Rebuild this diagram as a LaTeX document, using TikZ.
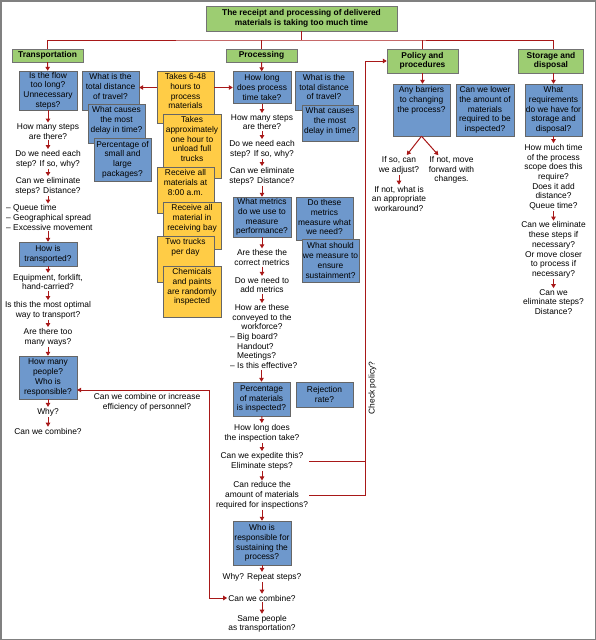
\documentclass[tikz,border=0pt]{standalone}
\usepackage{fontspec}
\setmainfont{Liberation Sans}
\usetikzlibrary{arrows.meta,positioning}

\definecolor{hdgreen}{RGB}{157,205,114}
\definecolor{qblue}{RGB}{110,152,204}
\definecolor{qyellow}{RGB}{255,204,70}
\definecolor{linkred}{RGB}{168,24,24}

\tikzset{
  boxsize/.style 2 args={minimum width=#1, minimum height=#2},
  hdbox/.style={draw=black!55, fill=hdgreen, align=center, inner sep=1pt,
    font=\bfseries\fontsize{8.4}{9.4}\selectfont},
  qbox/.style={draw=black!60, fill=qblue, align=center, inner sep=1pt,
    font=\fontsize{8.4}{9.7}\selectfont},
  ybox/.style={draw=black!60, fill=qyellow, align=center, inner sep=1pt},
  qtext/.style={align=center, inner sep=1pt, font=\fontsize{8.4}{9.7}\selectfont},
  link/.style={draw=linkred, line width=1pt},
  arr/.style={link, -{Triangle[length=4pt,width=4.5pt]}},
  arrboth/.style={link, {Triangle[length=4pt,width=4.5pt]}-{Triangle[length=4pt,width=4.5pt]}},
}

\begin{document}
\begin{tikzpicture}[x=1pt, y=-1pt]
\useasboundingbox (0,0) rectangle (596,640);
\draw[black!50, line width=1.5pt] (0.75,0.75) rectangle (595.25,639.25);

% title and headings
\node[hdbox, boxsize={191}{25}] (title) at (301.5,18.5) {The receipt and processing of delivered\\materials is taking too much time};
\node[hdbox, boxsize={71}{13}] (trans) at (47.5,55.5) {Transportation};
\node[hdbox, boxsize={71}{13}] (proc) at (261.5,55.5) {Processing};
\node[hdbox, boxsize={71}{24}] (policy) at (422.5,61) {Policy and\\procedures};
\node[hdbox, boxsize={65}{24}] (storage) at (551,61) {Storage and\\disposal};

% transportation
\node[qbox, boxsize={58}{39}] (T1) at (48,90.5) {Is the flow\\too long?\\Unnecessary\\steps?};
\node[qbox, boxsize={57}{39}] (T2) at (110.5,90.5) {};
\node[qtext, below=1.8pt of T2.north] (T2t) {What is the\\total distance\\of travel?};
\node[qbox, boxsize={57}{39}] (T3) at (116.5,123.5) {};
\node[qtext, below=1.8pt of T3.north] (T3t) {What causes\\the most\\delay in time?};
\node[qbox, boxsize={57}{43}] (T4) at (122.5,159.5) {Percentage of\\small and\\large\\packages?};
\node[qtext] (t1) at (48,131.5) {How many steps\\are there?};
\node[qtext] (t2) at (48,159) {Do we need each\\step? If so, why?};
\node[qtext] (t3) at (48,186) {Can we eliminate\\steps? Distance?};
\node[qtext, align=left, anchor=west] (t4) at (5,217.5) {– Queue time\\– Geographical spread\\– Excessive movement};
\node[qbox, boxsize={58}{24}] (Thow) at (48,254) {How is\\transported?};
\node[qtext] (t5) at (48,282) {Equipment, forklift,\\hand-carried?};
\node[qtext] (t6) at (48,310) {Is this the most optimal\\way to transport?};
\node[qtext] (t7) at (48,337) {Are there too\\many ways?};
\node[qbox, boxsize={58}{43}] (Tpeople) at (48,377.5) {How many\\people?\\Who is\\responsible?};
\node[qtext] (t8) at (48,412) {Why?};
\node[qtext] (t9) at (48,431) {Can we combine?};

% facts
\node[ybox, boxsize={57}{52}] (Y1) at (185.5,97) {};
\node[qtext, below=1.8pt of Y1.north] (Y1t) {Takes 6-48\\hours to\\process\\materials};
\node[ybox, boxsize={58}{64}] (Y2) at (192,146) {};
\node[qtext, below=1.8pt of Y2.north] (Y2t) {Takes\\approximately\\one hour to\\unload full\\trucks};
\node[ybox, boxsize={57}{46}] (Y3) at (185.5,190) {};
\node[qtext, below=1.8pt of Y3.north] (Y3t) {Receive all\\materials at\\8:00 a.m.};
\node[ybox, boxsize={58}{47}] (Y4) at (192,225.5) {};
\node[qtext, below=1.8pt of Y4.north] (Y4t) {Receive all\\material in\\receiving bay};
\node[ybox, boxsize={57}{46}] (Y5) at (185.5,259) {};
\node[qtext, below=1.8pt of Y5.north] (Y5t) {Two trucks\\per day};
\node[ybox, boxsize={58}{51}] (Y6) at (192,291.5) {};
\node[qtext, below=1.8pt of Y6.north] (Y6t) {Chemicals\\and paints\\are randomly\\inspected};

% processing
\node[qbox, boxsize={58}{32}] (P1) at (262,87.5) {How long\\does process\\time take?};
\node[qbox, boxsize={58}{38.5}] (P2) at (324,90.75) {};
\node[qtext, below=1.8pt of P2.north] (P2t) {What is the\\total distance\\of travel?};
\node[qbox, boxsize={56}{36}] (P3) at (330,123) {};
\node[qtext, below=1.8pt of P3.north] (P3t) {What causes\\the most\\delay in time?};
\node[qtext] (p1) at (262,122) {How many steps\\are there?};
\node[qtext] (p2) at (262,149) {Do we need each\\step? If so, why?};
\node[qtext] (p3) at (262,176) {Can we eliminate\\steps? Distance?};
\node[qbox, boxsize={58}{40}] (P4) at (262,217) {What metrics\\do we use to\\measure\\performance?};
\node[qbox, boxsize={57}{43}] (P5) at (324.5,218.5) {};
\node[qtext, below=1.8pt of P5.north] (P5t) {Do these\\metrics\\measure what\\we need?};
\node[qbox, boxsize={57}{43}] (P6) at (330.5,260.5) {What should\\we measure to\\ensure\\sustainment?};
\node[qtext] (p4) at (262,257.5) {Are these the\\correct metrics};
\node[qtext] (p5) at (262,285) {Do we need to\\add metrics};
\node[qtext] (p6) at (262,317) {How are these\\conveyed to the\\workforce?};
\node[qtext, align=left, anchor=west] (p7) at (229,351) {– Big board?\\\phantom{– }Handout?\\\phantom{– }Meetings?\\– Is this effective?};
\node[qbox, boxsize={57}{34}] (P7) at (261.5,399) {Percentage\\of materials\\is inspected?};
\node[qbox, boxsize={57}{25}] (P8) at (324.5,394.5) {Rejection\\rate?};
\node[qtext] (p8) at (262,433) {How long does\\the inspection take?};
\node[qtext] (p9) at (262,461) {Can we expedite this?\\Eliminate steps?};
\node[qtext] (p10) at (262,495.3) {Can reduce the\\amount of materials\\required for inspections?};
\node[qbox, boxsize={58}{44}] (P9) at (262,543) {Who is\\responsible for\\sustaining the\\process?};
\node[qtext] (p11) at (262,577) {Why? Repeat steps?};
\node[qtext] (p12) at (262,598) {Can we combine?};
\node[qtext] (p13) at (262,623.7) {Same people\\as transportation?};

% policy
\node[qbox, boxsize={57}{52}] (B1) at (421.5,110) {};
\node[qtext, below=1.8pt of B1.north] (B1t) {Any barriers\\to changing\\the process?};
\node[qbox, boxsize={58}{52}] (B2) at (485,110) {Can we lower\\the amount of\\materials\\required to be\\inspected?};
\node[qtext] (b1) at (399,165) {If so, can\\we adjust?};
\node[qtext] (b2) at (451.5,170) {If not, move\\forward with\\changes.};
\node[qtext] (b3) at (399,198.7) {If not, what is\\an appropriate\\workaround?};

% storage
\node[qbox, boxsize={57}{52}] (S1) at (553.5,110) {What\\requirements\\do we have for\\storage and\\disposal?};
\node[qtext] (s1) at (553.5,177.3) {How much time\\of the process\\scope does this\\require?\\Does it add\\distance?\\Queue time?};
\node[qtext] (s2) at (553.5,250) {Can we eliminate\\these steps if\\necessary?\\Or move closer\\to process if\\necessary?};
\node[qtext] (s3) at (553.5,302) {Can we\\eliminate steps?\\Distance?};

% labels on the long connectors
\node[qtext] (cblab) at (147,402) {Can we combine or increase\\efficiency of personnel?};
\node[qtext, rotate=90] (cplab) at (372.5,388) {Check policy?};

% tree from the title
\coordinate (hub) at (301.5,40);
\draw[link] (title) -- (hub);
\draw[link] (trans) |- (hub) -- (hub -| S1) -- (storage.north -| S1);
\draw[link] (proc) -- (proc |- hub);
\draw[link] (policy) -- (policy |- hub);

% transportation arrows
\draw[arr] (trans) -- (T1);
\draw[arr] (T1) -- (t1);
\draw[arr] (t1) -- (t2);
\draw[arr] (t2) -- (t3);
\draw[arr] (t3) -- (t3 |- t4.north);
\draw[arr] (t4.south -| Thow) -- (Thow);
\draw[arr] (Thow) -- (t5);
\draw[arr] (t5) -- (t6);
\draw[arr] (t6) -- (t7);
\draw[arr] (t7) -- (Tpeople);
\draw[arr] (Tpeople) -- (t8);
\draw[arr] (t8) -- (t9);

% facts arrows
\draw[arr] (Y1.west |- P1.west) -- (T2.east |- P1.west);
\draw[arr] (Y1.east |- P1.west) -- (P1.west);

% processing arrows
\draw[arr] (proc) -- (P1);
\draw[arr] (P1) -- (p1);
\draw[arr] (p1) -- (p2);
\draw[arr] (p2) -- (p3);
\draw[arr] (p3) -- (P4);
\draw[arr] (P4) -- (p4);
\draw[arr] (p4) -- (p5);
\draw[arr] (p5) -- (p6);
\draw[arr] (p7.south -| P7) -- (P7);
\draw[arr] (P7) -- (p8);
\draw[arr] (p8) -- (p9);
\draw[arr] (p9) -- (p10);
\draw[arr] (p10) -- (P9);
\draw[arr] (P9) -- (p11);
\draw[arr] (p11) -- (p12);
\draw[arr] (p12) -- (p13);

% policy arrows
\draw[arr] (policy) -- (B1.north -| policy);
\draw[arr] (B1.south) -- (b1);
\draw[arr] (B1.south) -- (b2);
\draw[arr] (b1) -- (b3);

% storage arrows
\draw[arr] (storage.south -| S1) -- (S1);
\draw[arr] (S1) -- (s1);
\draw[arr] (s1) -- (s2);
\draw[arr] (s2) -- (s3);

% check policy loop
\coordinate (cpbot) at (365.7,494.3);
\draw[arr] (p10.east) -- (p10.east -| cpbot) -- (cpbot |- policy.west) -- (policy.west);
\draw[link] (p9.east -| p10.east) -- (p9.east -| cpbot);

% combine loop
\coordinate (cbtop) at (209.3,390);
\draw[arrboth] (p12) -| (cbtop) -- (cbtop -| Tpeople.east);
\end{tikzpicture}
\end{document}
